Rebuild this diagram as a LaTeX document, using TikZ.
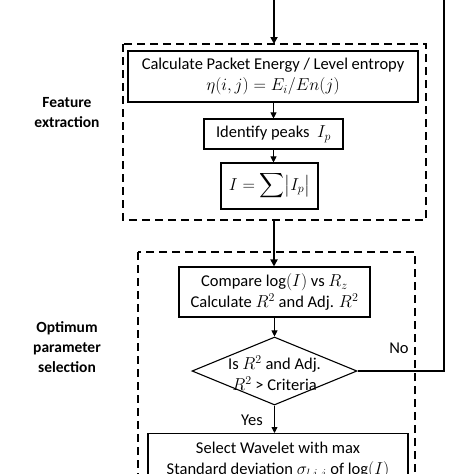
\documentclass[tikz,border=0pt]{standalone}
\usepackage{exscale}
\usepackage{fontspec}
\setmainfont{Carlito}
\usetikzlibrary{arrows.meta,shapes.geometric}
\begin{document}
\begin{tikzpicture}[x=1pt,y=-1pt,
  font=\fontsize{16.5}{20}\selectfont,
  stepbox/.style={draw,line width=1.1pt,align=center,inner sep=0pt},
  group/.style={draw,line width=1.6pt,dash pattern=on 8pt off 5pt},
  thin/.style={line width=0.9pt,-{Triangle[length=6pt,width=6pt]}},
  thick/.style={line width=1.8pt,-{Triangle[length=7pt,width=7pt]}},
  lab/.style={font=\fontsize{15.5}{20}\selectfont\bfseries,align=center}]
\clip (0,0) rectangle (474,474);
\fill[white] (0,0) rectangle (474,474);
% groups
\draw[group] (123,44) rectangle (426,220);
\draw[group] (138,252) rectangle (415,490);
% boxes
\node[stepbox,minimum width=290pt,minimum height=51pt] (calc) at (273,76.5)
  {Calculate Packet Energy / Level entropy\\[1pt] $\eta(i,j)=E_i/En(j)$};
\node[stepbox,minimum width=139pt,minimum height=30pt] (peak) at (273.5,134)
  {Identify peaks\ \ $I_p$};
\node[stepbox,minimum width=97pt,minimum height=46pt] (sum) at (269.5,186)
  {$I=\displaystyle\sum\bigl|I_p\bigr|$};
\node[stepbox,minimum width=191pt,minimum height=50pt] (cmp) at (274.5,292)
  {Compare $\log(I)$ vs $R_z$\\[1pt] Calculate $R^2$ and Adj. $R^2$};
\node[draw,line width=1.1pt,diamond,aspect=2.45,inner sep=0pt,minimum width=165pt,minimum height=68pt,align=center] (dec) at (274.5,371)
  {};
\node[align=center] at (274.5,373) {Is $R^2$ and Adj.\\[1pt] $R^2$ > Criteria};
\node[stepbox,minimum width=260pt,minimum height=60pt,anchor=north] (sel) at (278,433)
  {};
\node[align=center,anchor=north] at (278,439) {Select Wavelet with max\\[1pt] Standard deviation $\sigma_{l,i,j}$ of $\log(I)$};
% labels
\node[lab] at (67,113) {Feature\\extraction};
\node[lab] at (67,347) {Optimum\\parameter\\selection};
\node at (399,348) {No};
\node at (252,420) {Yes};
% connectors
\coordinate (topin) at (274,0);
\coordinate (g1top) at (274,44);
\coordinate (g1bot) at (274,220);
\coordinate (corner) at (444,371);
\coordinate (cornertop) at (444,0);
\draw[thick] (topin) -- (g1top);
\draw[thick] (g1bot) -- (g1bot |- cmp.north);
\draw[thin] (calc.south -| peak.north) -- (peak.north);
\draw[thin] (peak.south) -- (peak.south |- sum.north);
\draw[thin] (cmp.south) -- (dec.north);
\draw[thin] (dec.south) -- (dec.south |- sel.north);
\draw[line width=1.8pt] (dec.east) -- (corner) -- (cornertop);
\end{tikzpicture}
\end{document}
